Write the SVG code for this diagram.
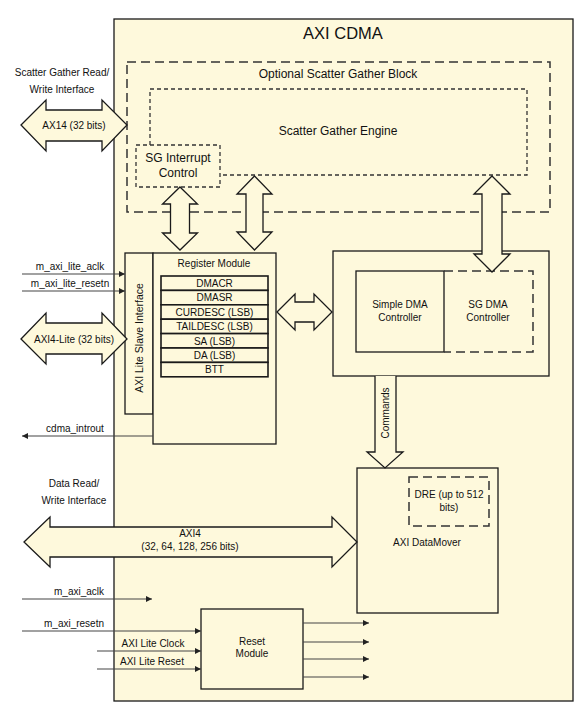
<svg xmlns="http://www.w3.org/2000/svg" width="585" height="711" viewBox="0 0 585 711">
<defs>
<style>
text{font-family:"Liberation Sans",Arial,sans-serif;fill:#111;}
.t10{font-size:10px;}
.t12{font-size:12px;}
.mid{text-anchor:middle;}
.box{fill:#FEF9DC;stroke:#1a1a1a;stroke-width:1.3;}
.reg{fill:#FEF9DC;stroke:#1a1a1a;stroke-width:1.6;}
.dash1{fill:none;stroke:#333;stroke-width:1.5;stroke-dasharray:9,5;}
.dash2{fill:none;stroke:#333;stroke-width:1.3;stroke-dasharray:4,3;}
.arr{fill:#FEF9DC;stroke:#1a1a1a;stroke-width:1.3;stroke-linejoin:miter;}
.sig{stroke:#444;stroke-width:1.2;fill:none;}
</style>
<marker id="ah" viewBox="0 0 10 10" refX="10" refY="5" markerWidth="8" markerHeight="6" markerUnits="userSpaceOnUse" orient="auto">
<path d="M0,0 L10,5 L0,10 z" fill="#222"/>
</marker>
</defs>

<g id="axi-cdma">
<rect class="box" x="114" y="19" width="459" height="682"/>
<text class="mid" x="343" y="39" style="font-size:16.5px">AXI CDMA</text>
</g>

<g id="optional-sg-block">
<rect class="dash1" x="127" y="62" width="423" height="150"/>
<text class="t12 mid" x="338" y="78">Optional Scatter Gather Block</text>
</g>

<g id="sg-engine">
<path class="dash2" d="M150,145 V89 H527 V175 H220"/>
<text class="t12 mid" x="338" y="135">Scatter Gather Engine</text>
</g>

<g id="sg-interrupt">
<rect class="dash2" x="136" y="145" width="84" height="42"/>
<text class="t12 mid" x="178" y="162">SG Interrupt</text>
<text class="t12 mid" x="178" y="177">Control</text>
</g>

<g id="axi-lite-slave">
<rect class="box" x="125" y="253" width="28" height="161"/>
<text class="mid" transform="translate(143,338) rotate(-90)" style="font-size:10.5px">AXI Lite Slave Interface</text>
</g>

<g id="register-module">
<rect class="box" x="153" y="253" width="123" height="191"/>
<text class="t10 mid" x="214" y="267">Register Module</text>
<rect class="reg" x="161" y="276" width="107" height="14.4"/>
<rect class="reg" x="161" y="290.4" width="107" height="14.4"/>
<rect class="reg" x="161" y="304.8" width="107" height="14.4"/>
<rect class="reg" x="161" y="319.2" width="107" height="14.4"/>
<rect class="reg" x="161" y="333.6" width="107" height="14.4"/>
<rect class="reg" x="161" y="348" width="107" height="14.4"/>
<rect class="reg" x="161" y="362.4" width="107" height="14.4"/>
<text class="t10 mid" x="214.5" y="287">DMACR</text>
<text class="t10 mid" x="214.5" y="301.4">DMASR</text>
<text class="t10 mid" x="214.5" y="315.8">CURDESC (LSB)</text>
<text class="t10 mid" x="214.5" y="330.2">TAILDESC (LSB)</text>
<text class="t10 mid" x="214.5" y="344.6">SA (LSB)</text>
<text class="t10 mid" x="214.5" y="359">DA (LSB)</text>
<text class="t10 mid" x="214.5" y="373.4">BTT</text>
</g>

<g id="dma-controller">
<rect class="box" x="333" y="251" width="216" height="125"/>
</g>

<g id="simple-dma">
<rect class="box" x="356" y="271" width="88" height="81"/>
<text class="t10 mid" x="400" y="308">Simple DMA</text>
<text class="t10 mid" x="400" y="321">Controller</text>
</g>

<g id="sg-dma">
<path class="dash1" d="M444,271 H533 V352 H444"/>
<text class="t10 mid" x="488" y="308">SG DMA</text>
<text class="t10 mid" x="488" y="321">Controller</text>
</g>

<g id="datamover">
<rect class="box" x="357" y="468" width="141" height="145"/>
<text class="t10 mid" x="427" y="546">AXI DataMover</text>
</g>

<g id="dre">
<rect class="dash1" x="409" y="477" width="80" height="49"/>
<text class="t10 mid" x="449" y="498">DRE (up to 512</text>
<text class="t10 mid" x="449" y="511">bits)</text>
</g>

<g id="reset-module">
<rect class="box" x="201" y="609" width="102" height="80"/>
<text class="t10 mid" x="252" y="645">Reset</text>
<text class="t10 mid" x="252" y="657">Module</text>
</g>

<g id="connectors">
<polygon class="arr" points="180,187 197.5,204 189.5,204 189.5,233 197.5,233 180,250 162.5,233 170.5,233 170.5,204 162.5,204"/>
<polygon class="arr" points="254.5,176 272,194 263,194 263,232 272,232 254.5,250 237,232 246,232 246,194 237,194"/>
<polygon class="arr" points="492,176 510,194 502,194 502,254 510,254 492,272 474,254 482,254 482,194 474,194"/>
<polygon class="arr" points="21,125 46,100 46,110 102,110 102,100 127,125 102,151 102,141 46,141 46,151"/>
<polygon class="arr" points="21,339 46,313 46,323 102,323 102,313 127,339 102,364 102,354 46,354 46,364"/>
<polygon class="arr" points="277,312 295,294 295,302 314,302 314,294 332,312 314,330 314,322 295,322 295,330"/>
<polyline class="arr" points="375,376 375,452 367,452 385,468 403,452 396,452 396,376"/>
<polygon class="arr" points="24,542 50,517 50,527 332,527 332,517 357,542 332,567 332,557 50,557 50,567"/>

<line class="sig" x1="22" y1="274" x2="125" y2="274" marker-end="url(#ah)"/>
<line class="sig" x1="22" y1="291" x2="125" y2="291" marker-end="url(#ah)"/>
<line class="sig" x1="153" y1="436" x2="22" y2="436" marker-end="url(#ah)"/>
<line class="sig" x1="22" y1="599" x2="152" y2="599" marker-end="url(#ah)"/>
<line class="sig" x1="22" y1="631" x2="201" y2="631" marker-end="url(#ah)"/>
<line class="sig" x1="97" y1="651" x2="201" y2="651" marker-end="url(#ah)"/>
<line class="sig" x1="97" y1="669" x2="201" y2="669" marker-end="url(#ah)"/>
<line class="sig" x1="303" y1="623" x2="369" y2="623" marker-end="url(#ah)"/>
<line class="sig" x1="303" y1="642" x2="369" y2="642" marker-end="url(#ah)"/>
<line class="sig" x1="303" y1="659" x2="369" y2="659" marker-end="url(#ah)"/>
<line class="sig" x1="303" y1="677" x2="369" y2="677" marker-end="url(#ah)"/>

<text class="t10 mid" x="62" y="76">Scatter Gather Read/</text>
<text class="t10 mid" x="62" y="93">Write Interface</text>
<text class="t10 mid" x="74" y="129">AX14 (32 bits)</text>
<text class="t10 mid" x="70" y="270">m_axi_lite_aclk</text>
<text class="t10 mid" x="70" y="287">m_axi_lite_resetn</text>
<text class="t10 mid" x="74" y="343">AXI4-Lite (32 bits)</text>
<text class="t10 mid" x="75" y="432">cdma_introut</text>
<text class="t10 mid" transform="translate(389,413) rotate(-90)">Commands</text>
<text class="t10 mid" x="74" y="487">Data Read/</text>
<text class="t10 mid" x="74" y="504">Write Interface</text>
<text class="t10 mid" x="190" y="537">AXI4</text>
<text class="t10 mid" x="190" y="550">(32, 64, 128, 256 bits)</text>
<text class="t10 mid" x="79" y="595">m_axi_aclk</text>
<text class="t10 mid" x="74" y="627">m_axi_resetn</text>
<text class="t10 mid" x="153" y="647">AXI Lite Clock</text>
<text class="t10 mid" x="152" y="665">AXI Lite Reset</text>
</g>
</svg>
